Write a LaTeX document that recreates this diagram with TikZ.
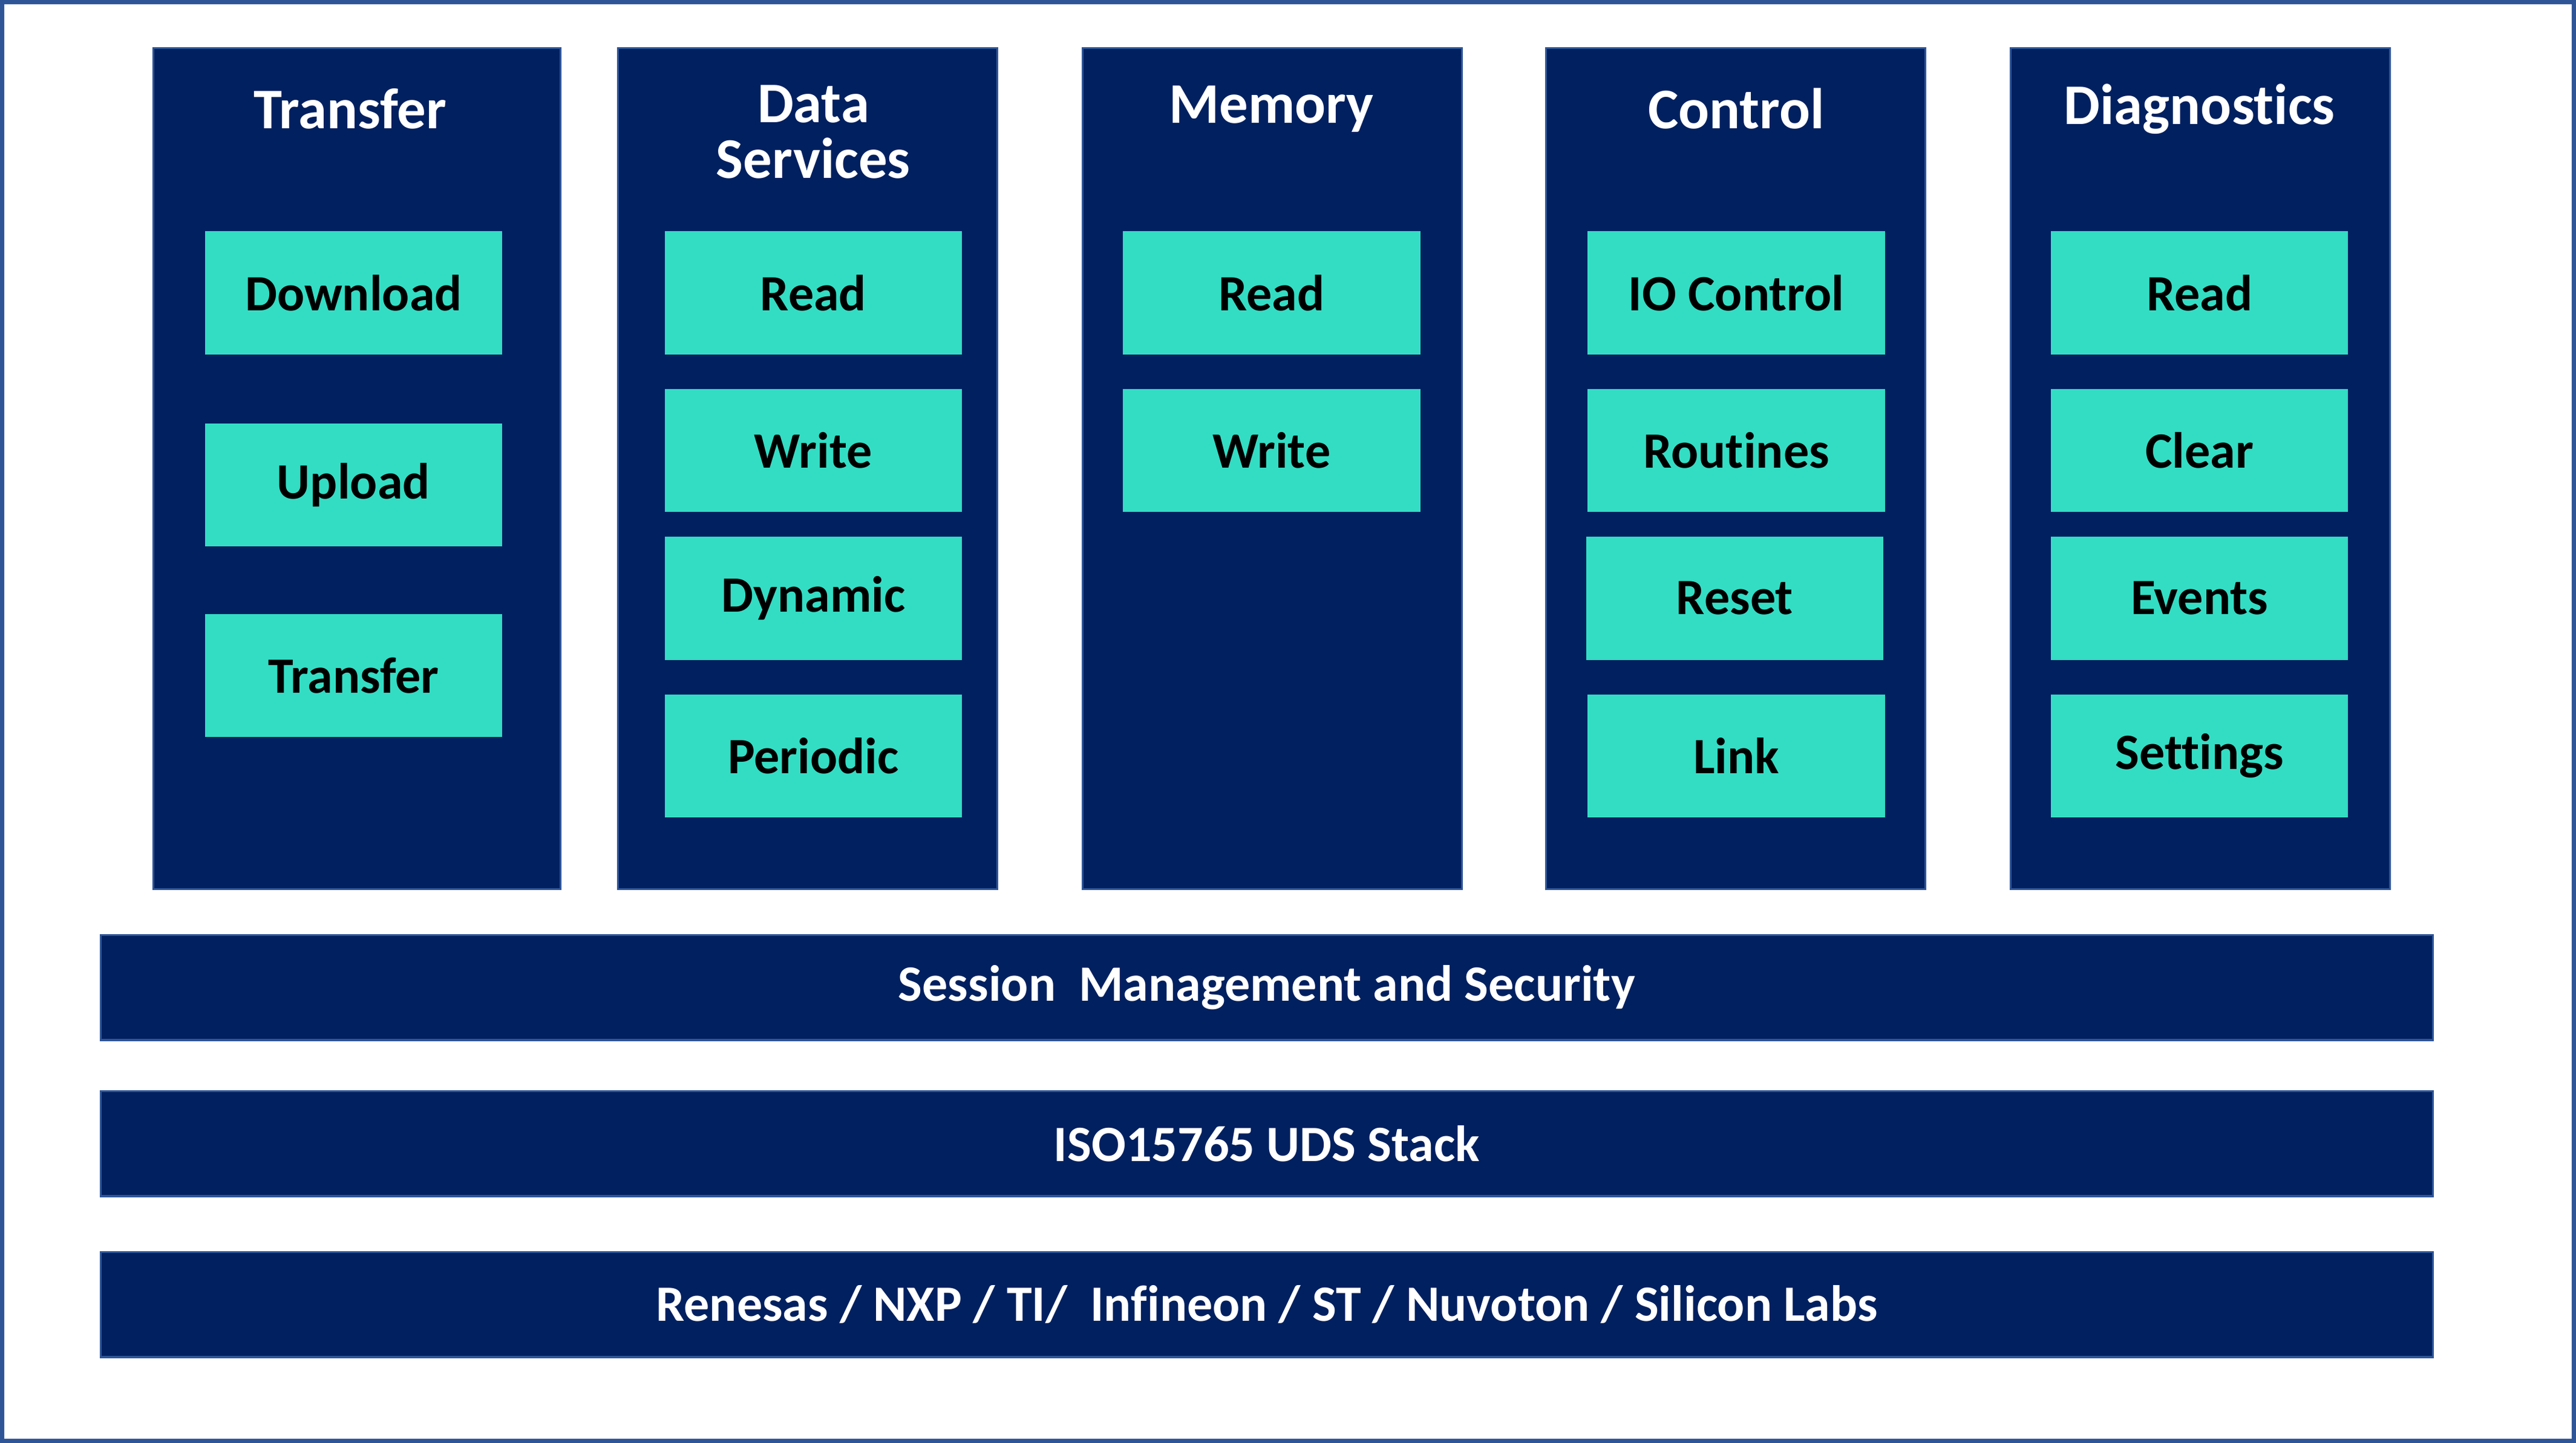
\documentclass[tikz,border=0pt]{standalone}
\usepackage{fontspec}
\setmainfont{Carlito}[Ligatures=NoCommon]
\definecolor{navy}{HTML}{002060}
\definecolor{teal}{HTML}{33DDC4}
\definecolor{edge}{HTML}{2F5597}
\begin{document}
\begin{tikzpicture}[x=1pt,y=-1pt,
  col/.style={draw=edge,line width=1.2pt,fill=navy},
  box/.style={fill=teal,inner sep=0pt,minimum width=181pt,minimum height=75pt,font=\fontsize{31}{36}\selectfont\bfseries,text=black},
  title/.style={text=white,font=\fontsize{35}{40}\selectfont\bfseries,align=center},
  bar/.style={draw=edge,line width=1.2pt,fill=navy,inner sep=0pt,minimum width=1420pt,minimum height=64pt,text=white,font=\fontsize{31}{36}\selectfont\bfseries}]
\draw[edge,line width=2.5pt,fill=white] (1,1) rectangle (1567,877);
\useasboundingbox (0,0) rectangle (1568,878);
% columns
\draw[col] (93,29) rectangle (341,541);
\draw[col] (376,29) rectangle (607,541);
\draw[col] (659,29) rectangle (890,541);
\draw[col] (941,29) rectangle (1172,541);
\draw[col] (1224,29) rectangle (1455,541);
\node[title] (t1) at (213,66) {Transfer};
\node[title] (t2) at (495,80) {Data\\[-6pt]Services};
\node[title] (t3) at (774,66) {Memory};
\node[title] (t4) at (1057,66) {Control};
\node[title] (t5) at (1339,66) {Diagnostics};
% Transfer
\node[box] (a1) at (215,178) {Download};
\node[box] (a2) at (215,295) {Upload};
\node[box] (a3) at (215,411) {Transfer};
% Data services
\node[box] (b1) at (495,178) {Read};
\node[box] (b2) at (495,274) {Write};
\node[box] (b3) at (495,364) {Dynamic};
\node[box] (b4) at (495,460) {Periodic};
% Memory
\node[box] (c1) at (774,178) {Read};
\node[box] (c2) at (774,274) {Write};
% Control
\node[box] (d1) at (1057,178) {IO Control};
\node[box] (d2) at (1057,274) {Routines};
\node[box] (d3) at (1056,364) {Reset};
\node[box] (d4) at (1057,460) {Link};
% Diagnostics
\node[box] (e1) at (1339,178) {Read};
\node[box] (e2) at (1339,274) {Clear};
\node[box] (e3) at (1339,364) {Events};
\node[box] (e4) at (1339,460) {Settings};
% bars
\node[bar] (s1) at (771,601) {Session\ \ Management and Security};
\node[bar] (s2) at (771,696) {ISO15765 UDS Stack};
\node[bar] (s3) at (771,794) {Renesas / NXP / TI/\ \ Infineon / ST / Nuvoton / Silicon Labs};
\end{tikzpicture}
\end{document}
